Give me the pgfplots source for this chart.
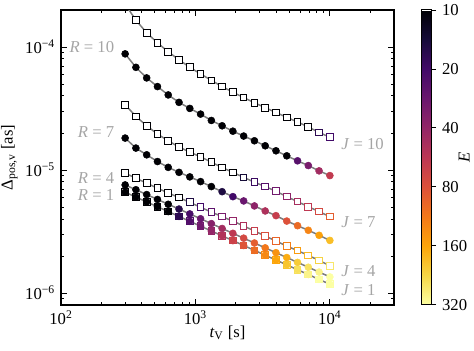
\documentclass[border=0pt]{standalone}
\usepackage{fontspec}
\setmainfont{Liberation Serif}
\usepackage{pgfplots}
\usepackage{pgfplotstable}
\pgfplotsset{compat=1.18}

\definecolor{labelgray}{RGB}{165,165,165}
\definecolor{linegray}{RGB}{125,125,125}

\pgfplotsset{
  colormap={inferno}{rgb255=(0,0,4) rgb255=(22,11,57) rgb255=(66,10,104) rgb255=(106,23,110) rgb255=(147,38,103) rgb255=(188,55,84) rgb255=(221,81,58) rgb255=(243,120,25) rgb255=(252,165,10) rgb255=(246,215,70) rgb255=(252,255,164)},
  ln/.style={linegray, line width=0.9pt, no markers, forget plot},
  sq/.style={scatter, only marks, mark=square*, mark size=2pt,
    scatter/use mapped color={draw=mapped color, fill=white},
    mark options={line width=0.6pt}},
  ci/.style={scatter, only marks, mark=*, mark size=2.1pt,
    scatter/use mapped color={draw=mapped color, fill=mapped color},
    mark options={line width=0.3pt}},
}

% a = J=10 squares, b = R=10 circles, c = J=7 squares, d = R=7 circles,
% e = J=4 squares, f = R=4 circles, g = R=1 circles / J=1 squares
\pgfplotstableread{
t      ya       ea  yb       eb  yc       ec  yd       ed  ye       ee  yf       ef  yg       eg
300    2.23e-4  10  8.80e-5  10  3.40e-5  10  1.82e-5  10  9.43e-6  10  7.57e-6  10  6.61e-6  10
360.8  1.654e-4 10  6.84e-5  10  2.73e-5  10  1.509e-5 10  8.59e-6  10  6.92e-6  10  6.03e-6  10
433.9  1.305e-4 10  5.61e-5  10  2.29e-5  10  1.330e-5 10  7.82e-6  10  6.32e-6  10  5.51e-6  10
521.9  1.082e-4 10  4.77e-5  10  1.962e-5 10  1.173e-5 10  7.12e-6  10  5.77e-6  10  5.03e-6  10
627.6  9.14e-5  10  4.08e-5  10  1.730e-5 10  1.052e-5 10  6.52e-6  10  5.27e-6  10  4.60e-6  10
754.9  7.88e-5  10  3.55e-5  10  1.539e-5 10  9.58e-6  10  5.97e-6  10  4.82e-6  16  4.20e-6  17
907.8  6.84e-5  10  3.17e-5  10  1.399e-5 10  8.80e-6  10  5.47e-6  15  4.40e-6  21  3.835e-6 23
1092   6.05e-5  10  2.85e-5  10  1.281e-5 10  8.06e-6  10  4.98e-6  20  4.02e-6  28  3.50e-6  30
1313.2 5.36e-5  10  2.53e-5  10  1.160e-5 10  7.34e-6  10  4.56e-6  25  3.67e-6  36  3.20e-6  40
1579.3 4.77e-5  10  2.29e-5  10  1.048e-5 10  6.67e-6  15  4.18e-6  32  3.35e-6  46  2.92e-6  52
1899.4 4.30e-5  10  2.07e-5  10  9.58e-6  10  6.08e-6  20  3.85e-6  40  3.06e-6  58  2.67e-6  66
2284.4 3.88e-5  10  1.89e-5  10  8.72e-6  14  5.61e-6  28  3.51e-6  50  2.795e-6 72  2.436e-6 82
2747.3 3.53e-5  10  1.73e-5  10  7.97e-6  19  5.11e-6  38  3.20e-6  62  2.553e-6 90  2.225e-6 102
3304.4 3.21e-5  10  1.575e-5 10  7.34e-6  24  4.65e-6  50  2.91e-6  78  2.331e-6 112 2.032e-6 128
3974.1 2.94e-5  10  1.434e-5 10  6.73e-6  30  4.26e-6  62  2.65e-6  95  2.129e-6 140 1.856e-6 160
4779.6 2.68e-5  10  1.305e-5 10  6.08e-6  38  3.85e-6  80  2.41e-6  120 1.945e-6 170 1.696e-6 200
5748.3 2.46e-5  10  1.189e-5 24  5.54e-6  47  3.53e-6  100 2.215e-6 150 1.776e-6 210 1.549e-6 245
6913.4 2.24e-5  10  1.088e-5 32  5.04e-6  58  3.24e-6  125 2.025e-6 185 1.622e-6 250 1.415e-6 290
8314.5 2.02e-5  17  9.85e-6  45  4.59e-6  72  2.95e-6  155 1.843e-6 220 1.482e-6 290 1.292e-6 320
10000  1.85e-5  20  9.02e-6  60  4.18e-6  90  2.68e-6  190 1.666e-6 260 1.353e-6 320 1.180e-6 320
}\data

\begin{document}
\begin{tikzpicture}
\begin{axis}[
  at={(36.6pt,-6pt)}, anchor=north west,
  scale only axis, width=199.8pt, height=177pt,
  xmode=log, ymode=log,
  xmin=100, xmax=30000, ymin=8e-7, ymax=2e-4,
  xtick={100,1000,10000},
  xticklabels={10\textsuperscript{2},10\textsuperscript{3},10\textsuperscript{4}},
  minor xtick={200,300,400,500,600,700,800,900,2000,3000,4000,5000,6000,7000,8000,9000,20000,30000},
  ytick={1e-6,1e-5,1e-4},
  yticklabels={10\textsuperscript{−6},10\textsuperscript{−5},10\textsuperscript{−4}},
  minor ytick={8e-7,9e-7,2e-6,3e-6,4e-6,5e-6,6e-6,7e-6,8e-6,9e-6,2e-5,3e-5,4e-5,5e-5,6e-5,7e-5,8e-5,9e-5,2e-4},
  xtick pos=both, ytick pos=both, tick align=inside,
  major tick length=3.5pt, minor tick length=2pt,
  every tick/.style={black, line width=0.6pt},
  axis line style={line width=0.8pt},
  xlabel={\textit{t}\textsubscript{V} [s]},
  ylabel={Δ\textsubscript{pos,v} [as]},
  xlabel style={at={(axis description cs:0.5,0)}, anchor=center, yshift=-16.8pt},
  ylabel style={at={(axis description cs:0,0.5)}, anchor=center, yshift=31pt},
  clip marker paths=true,
  colormap name=inferno,
  point meta min=2.3025, point meta max=5.7684,
  colorbar,
  colorbar style={
    at={(parent axis.north east)}, anchor=north west, xshift=7.8pt,
    width=6pt,
    y dir=reverse,
    ytick={2.302585,2.995732,3.688879,4.382027,5.075174,5.768321},
    yticklabels={10,20,40,80,160,320},
    ytick pos=right, yticklabel pos=right, tick align=outside,
    major tick length=3pt,
    every tick/.style={black, line width=0.6pt},
    axis line style={line width=0.6pt},
    ylabel={\textit{E}},
    ylabel style={at={(axis description cs:1,0.5)}, anchor=center, yshift=-19.8pt},
  },
]
\addplot[ln] table[x=t,y=ya]{\data};
\addplot[ln] table[x=t,y=yb]{\data};
\addplot[ln] table[x=t,y=yc]{\data};
\addplot[ln] table[x=t,y=yd]{\data};
\addplot[ln] table[x=t,y=ye]{\data};
\addplot[ln] table[x=t,y=yf]{\data};
\addplot[ln] table[x=t,y=yg]{\data};

\addplot[sq, point meta={ln(\thisrow{ea})}] table[x=t,y=ya]{\data};
\addplot[sq, point meta={ln(\thisrow{ec})}] table[x=t,y=yc]{\data};
\addplot[sq, point meta={ln(\thisrow{ee})}] table[x=t,y=ye]{\data};
\addplot[sq, point meta={ln(\thisrow{eg})}] table[x=t,y=yg]{\data};
\addplot[ci, point meta={ln(\thisrow{eb})}] table[x=t,y=yb]{\data};
\addplot[ci, point meta={ln(\thisrow{ed})}] table[x=t,y=yd]{\data};
\addplot[ci, point meta={ln(\thisrow{ef})}] table[x=t,y=yf]{\data};
\addplot[ci, point meta={ln(\thisrow{eg})}] table[x=t,y=yg]{\data};

\node[anchor=east, inner sep=0pt, text=labelgray] at (axis cs:250,1e-4) {\textit{R} = 10};
\node[anchor=east, inner sep=0pt, text=labelgray] at (axis cs:250,2.05e-5) {\textit{R} = 7};
\node[anchor=east, inner sep=0pt, text=labelgray] at (axis cs:250,8.64e-6) {\textit{R} = 4};
\node[anchor=east, inner sep=0pt, text=labelgray] at (axis cs:250,6.28e-6) {\textit{R} = 1};
\node[anchor=west, inner sep=0pt, text=labelgray] at (axis cs:12100,1.64e-5) {\textit{J} = 10};
\node[anchor=west, inner sep=0pt, text=labelgray] at (axis cs:12100,3.78e-6) {\textit{J} = 7};
\node[anchor=west, inner sep=0pt, text=labelgray] at (axis cs:12100,1.508e-6) {\textit{J} = 4};
\node[anchor=west, inner sep=0pt, text=labelgray] at (axis cs:12100,1.057e-6) {\textit{J} = 1};
\end{axis}
\pgfresetboundingbox
\path[use as bounding box] (0,0) rectangle (284.4pt,-210.6pt);
\end{tikzpicture}
\end{document}
